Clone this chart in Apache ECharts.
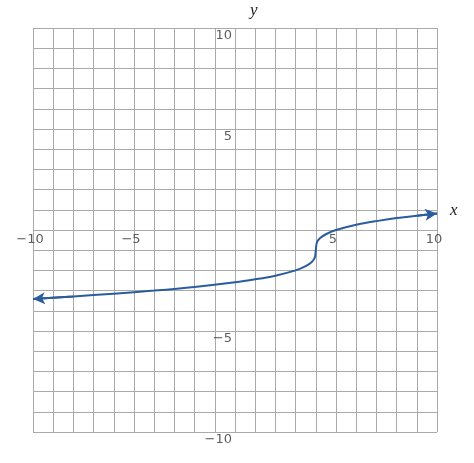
<!DOCTYPE html><html><head><meta charset="utf-8">
<script src="https://cdn.jsdelivr.net/npm/echarts@6/dist/echarts.min.js"></script>
<style>html,body{margin:0;background:#fff}#c{width:474px;height:463px}</style></head><body><div id="c"></div>
<script>
const curveX=[-10,-8,-6,-4,-2,0,1,2,3,3.5,3.8,3.95,4,4.05,4.2,4.5,5,6,7,8,9,10];
const curveY=[-3.41,-3.29,-3.15,-3.0,-2.82,-2.59,-2.44,-2.26,-2.0,-1.79,-1.58,-1.37,-1.0,-0.63,-0.41,-0.21,0,0.26,0.44,0.59,0.71,0.82];
const tickLabels=[-10,-5,5,10];
const txt=v=>String(v).replace('-','−');
const blue='#2b5c9e',dark='#3a3a3a';
const lab={show:true,color:'#333',fontSize:13,fontFamily:'DejaVu Sans'};
const chart=echarts.init(document.getElementById('c'));
chart.setOption({
 animation:false,
 grid:{left:33,right:37,top:28,bottom:31},
 xAxis:{type:'value',min:-10,max:10,interval:1,axisLine:{show:false},axisTick:{show:false},axisLabel:{show:false},
  splitLine:{lineStyle:{color:'#aaa',width:1}}},
 yAxis:{type:'value',min:-10,max:10,interval:1,axisLine:{show:false},axisTick:{show:false},axisLabel:{show:false},
  splitLine:{lineStyle:{color:'#aaa',width:1}}},
 series:[
  {type:'line',data:curveX.map((x,i)=>[x,curveY[i]]),smooth:0.3,showSymbol:false,clip:false,z:5,
   lineStyle:{color:blue,width:2},
   markLine:{silent:true,symbol:['none','arrow'],symbolSize:[9,12],label:{show:false},lineStyle:{color:blue,width:2,type:'solid'},
    data:[[{coord:[curveX[1],curveY[1]]},{coord:[curveX[0],curveY[0]]}],
          [{coord:[curveX[20],curveY[20]]},{coord:[curveX[21],curveY[21]]}]]}},
  {type:'scatter',symbolSize:0,clip:false,z:3,data:tickLabels.map(v=>[v,0]),
   label:Object.assign({},lab,{position:'bottom',offset:[-3,-2],formatter:p=>txt(p.value[0])}),
   markLine:{silent:true,symbol:['arrow','arrow'],symbolSize:[10,14],label:{show:false},
    lineStyle:{color:dark,width:2,type:'solid'},
    data:[[{coord:[-11.2,0]},{coord:[11.4,0]}],[{coord:[0,-11.3]},{coord:[0,11.1]}]]}},
  {type:'scatter',symbolSize:0,clip:false,data:tickLabels.map(v=>[0,v]),
   label:Object.assign({},lab,{position:'left',offset:[2,8],formatter:p=>txt(p.value[1])})}
 ],
 graphic:[
  {type:'text',left:450,top:202,style:{text:'x',font:'italic 17px "Liberation Serif"',fill:'#222'}},
  {type:'text',left:250,top:2,style:{text:'y',font:'italic 17px "Liberation Serif"',fill:'#222'}}
 ]
});
</script></body></html>
